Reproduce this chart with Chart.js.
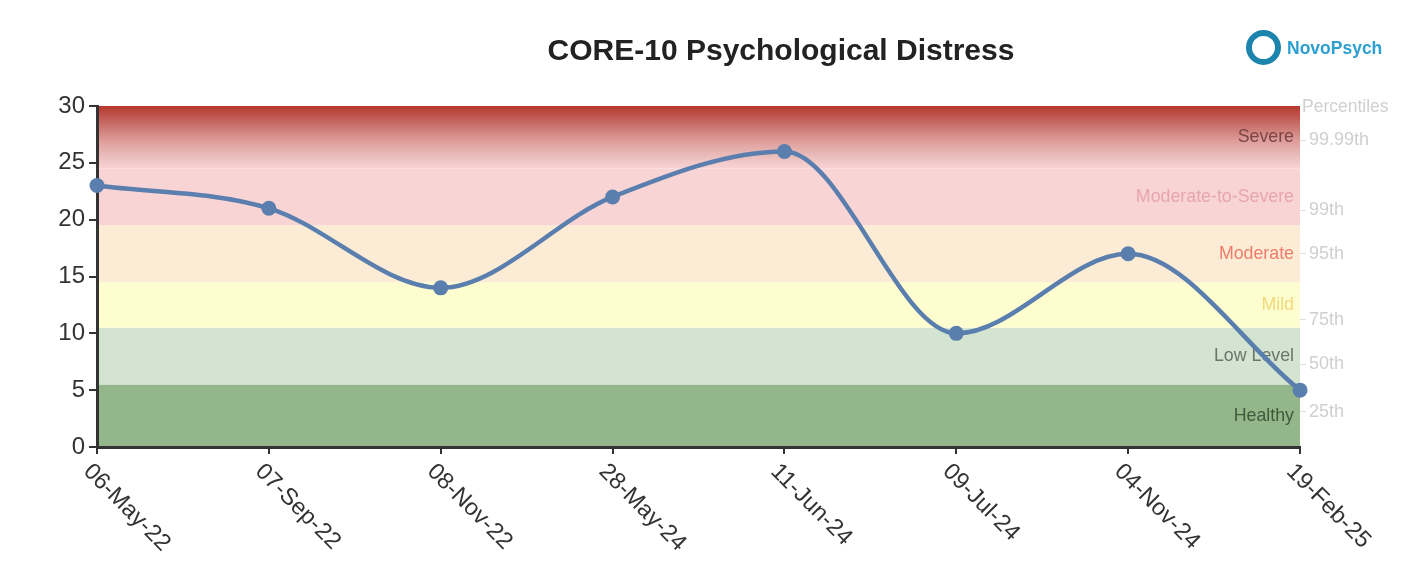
<!DOCTYPE html>
<html>
<head>
<meta charset="utf-8">
<script src="https://cdn.jsdelivr.net/npm/chart.js@4.4.1/dist/chart.umd.min.js"></script>
<style>
  html, body { margin: 0; padding: 0; background: #ffffff; }
  #wrap { position: relative; width: 1410px; height: 570px; overflow: hidden; }
  #title {
    position: absolute; left: 281px; top: 35px; width: 1000px; text-align: center;
    font-family: "Liberation Sans", Arial, sans-serif; font-weight: bold; font-size: 30px;
    line-height: 30px; color: #222222;
  }
  #logo { position: absolute; left: 1246px; top: 30px; height: 36px; }
  #logo .ring {
    position: absolute; left: 0; top: 0; width: 23px; height: 23px; border-radius: 50%;
    border: 6.5px solid #1d84ad;
  }
  #logo .name {
    position: absolute; left: 41px; top: 9px; white-space: nowrap;
    font-family: "Liberation Sans", Arial, sans-serif; font-weight: bold; font-size: 17.5px;
    line-height: 18px; color: #2d9fd0;
  }
  canvas { position: absolute; left: 0; top: 0; }
</style>
</head>
<body>
<div id="wrap">
  <canvas id="c" width="1410" height="570"></canvas>
  <div id="title">CORE-10 Psychological Distress</div>
  <div id="logo"><div class="ring"></div><div class="name">NovoPsych</div></div>
</div>
<script>
// ---- data ----
const dateLabels = ['06-May-22', '07-Sep-22', '08-Nov-22', '28-May-24', '11-Jun-24', '09-Jul-24', '04-Nov-24', '19-Feb-25'];
const scores = [23, 21, 14, 22, 26, 10, 17, 5];

const bandNames = ['Healthy', 'Low Level', 'Mild', 'Moderate', 'Moderate-to-Severe', 'Severe'];
const bandLower = [0, 5.5, 10.5, 14.5, 19.5, 24.5];
const bandUpper = [5.5, 10.5, 14.5, 19.5, 24.5, 30];

const percentileLabels = ['25th', '50th', '75th', '95th', '99th', '99.99th'];
const percentileScores = [3.1, 7.3, 11.2, 17, 20.85, 27];

const yMin = 0, yMax = 30, yStep = 5;

// ---- styles ----
const FONT = '"Liberation Sans", Arial, sans-serif';
const bandFill = ['#93b78a', '#d3e4d1', '#fefdd0', '#fcecd5', '#f9d4d5', null];
const bandText = ['#3e5a3c', '#6c756b', '#f2d97a', '#ee7d6c', '#e6a6ae', '#7a4646'];
const lineColor = '#5a7eae';

const bandsPlugin = {
  id: 'bands',
  beforeDraw(chart) {
    const { ctx, chartArea: a } = chart;
    const y = chart.scales.y;
    ctx.save();
    for (let i = 0; i < bandNames.length; i++) {
      const top = y.getPixelForValue(bandUpper[i]);
      const bot = y.getPixelForValue(bandLower[i]);
      let fill = bandFill[i];
      if (!fill) {
        const g = ctx.createLinearGradient(0, top, 0, bot);
        g.addColorStop(0, '#b5372d');
        g.addColorStop(0.3, '#c96f6a');
        g.addColorStop(0.55, '#de9c99');
        g.addColorStop(0.8, '#eabdbb');
        g.addColorStop(1, '#f9d4d5');
        fill = g;
      }
      ctx.fillStyle = fill;
      ctx.fillRect(a.left, top, a.right - a.left, bot - top);
    }
    ctx.font = '17.8px ' + FONT;
    ctx.textAlign = 'right';
    ctx.textBaseline = 'middle';
    for (let i = 0; i < bandNames.length; i++) {
      const mid = (bandLower[i] + bandUpper[i]) / 2;
      ctx.fillStyle = bandText[i];
      ctx.fillText(bandNames[i], a.right - 6, y.getPixelForValue(mid));
    }
    ctx.restore();
  },
  afterDraw(chart) {
    const { ctx, chartArea: a } = chart;
    const x = chart.scales.x;
    const y = chart.scales.y;
    ctx.save();
    ctx.font = '17.5px ' + FONT;
    ctx.fillStyle = '#d0d0d0';
    ctx.textAlign = 'left';
    ctx.textBaseline = 'middle';
    ctx.fillText('Percentiles', a.right + 2, y.getPixelForValue(yMax) + 1);
    ctx.font = '23.5px ' + FONT;
    ctx.fillStyle = '#333333';
    for (let i = 0; i < dateLabels.length; i++) {
      const px = x.getPixelForTick(i);
      ctx.save();
      ctx.translate(px - 10, a.bottom + 21);
      ctx.rotate(Math.PI / 4);
      ctx.fillText(dateLabels[i], 0, 0);
      ctx.restore();
    }
    ctx.restore();
  }
};

new Chart(document.getElementById('c'), {
  type: 'line',
  data: {
    labels: dateLabels,
    datasets: [{
      data: scores,
      borderColor: lineColor,
      backgroundColor: lineColor,
      borderWidth: 4.5,
      pointRadius: 7.5,
      pointBackgroundColor: lineColor,
      pointBorderWidth: 0,
      cubicInterpolationMode: 'monotone',
      fill: false,
      clip: false,
      yAxisID: 'y'
    }]
  },
  options: {
    responsive: false,
    devicePixelRatio: 1,
    animation: false,
    layout: { padding: { top: 106, left: 0, right: 0, bottom: 0 } },
    plugins: { legend: { display: false }, tooltip: { enabled: false }, title: { display: false } },
    scales: {
      x: {
        type: 'category',
        offset: false,
        ticks: { display: false },
        grid: { drawOnChartArea: false, drawTicks: true, tickLength: 7, color: '#333333', lineWidth: 2 },
        border: { display: true, color: '#333333', width: 3 },
        afterFit(s) { s.height = 123; }
      },
      y: {
        position: 'left',
        min: yMin, max: yMax,
        ticks: { stepSize: yStep, color: '#333333', font: { family: FONT, size: 24 }, padding: 4 },
        grid: { drawOnChartArea: false, tickLength: 8, color: '#333333', lineWidth: 2 },
        border: { display: true, color: '#333333', width: 3 },
        afterFit(s) { s.width = 97; }
      },
      y2: {
        position: 'right',
        min: yMin, max: yMax,
        afterBuildTicks(s) { s.ticks = percentileScores.map(v => ({ value: v })); },
        ticks: {
          autoSkip: false,
          color: '#cfcfcf',
          font: { family: FONT, size: 18 },
          padding: 3,
          callback: (v, i) => percentileLabels[i]
        },
        grid: { drawOnChartArea: false, tickLength: 6, color: '#dedede', lineWidth: 1 },
        border: { display: false },
        afterFit(s) { s.width = 110; }
      }
    }
  },
  plugins: [bandsPlugin]
});
</script>
</body>
</html>
